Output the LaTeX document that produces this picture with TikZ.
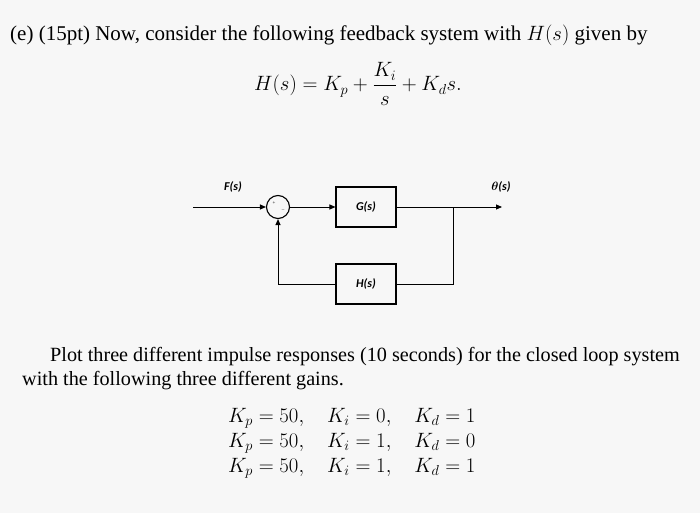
\documentclass[tikz,border=0pt]{standalone}
\usepackage{amsmath}
\usepackage{fontspec}
\setmainfont{Liberation Serif}
\newfontfamily\diafont{Carlito}
\usetikzlibrary{arrows.meta}
\begin{document}
\begin{tikzpicture}[x=1pt,y=-1pt,
  blk/.style={draw,line width=1.1pt,minimum width=60pt,minimum height=40pt,font=\diafont\bfseries\itshape\fontsize{12}{14}\selectfont},
  lbl/.style={font=\diafont\bfseries\itshape\fontsize{12}{14}\selectfont},
  sig/.style={line width=1pt},
  arr/.style={sig,-{Triangle[length=6pt,width=5pt]}},
  txt/.style={font=\fontsize{21}{24}\selectfont,anchor=west,inner sep=0},
  ptxt/.style={font=\fontsize{20.2}{24}\selectfont,anchor=west,inner sep=0}]
\useasboundingbox[fill=gray!6] (0,0) rectangle (700,513);
\node[txt] (title) at (10,35) {(e) (15pt) Now, consider the following feedback system with $H(s)$ given by};
\node[font=\fontsize{21}{24}\selectfont] (eq) at (358,84) {$H(s)=K_p+\dfrac{K_i}{s}+K_d s.$};
\node[circle,draw,line width=1.1pt,minimum size=23pt,inner sep=0] (sum) at (278,207) {};
\node[font=\tiny] at (274,203) {+};
\node[font=\tiny] at (283,210) {\_};
\node[blk] (G) at (366,207) {G(s)};
\node[blk] (H) at (366,284) {H(s)};
\coordinate (in) at (193,207);
\coordinate (out) at (502,207);
\coordinate (j) at (453,207);
\coordinate (bl) at (278,284);
\draw[arr] (in) -- (sum);
\draw[arr] (sum) -- (G);
\draw[arr] (G.east) -- (out);
\draw[sig] (j) |- (H.east);
\draw[arr] (H.west) -- (bl) -- (sum.south);
\node[lbl] (F) at (233,187) {F(s)};
\node[lbl] (th) at (501,187) {$\boldsymbol{\theta}$(s)};
\node[ptxt] (p1) at (50,357) {Plot three different impulse responses (10 seconds) for the closed loop system};
\node[ptxt] (p2) at (22,381) {with the following three different gains.};
\node[font=\fontsize{21}{25}\selectfont,anchor=north west,inner sep=0] (gains) at (228,405) {$\begin{array}{@{}l@{\;\;\;\;}l@{\;\;\;\;}l@{}}
K_p=50, & K_i=0, & K_d=1\\
K_p=50, & K_i=1, & K_d=0\\
K_p=50, & K_i=1, & K_d=1
\end{array}$};
\end{tikzpicture}
\end{document}
